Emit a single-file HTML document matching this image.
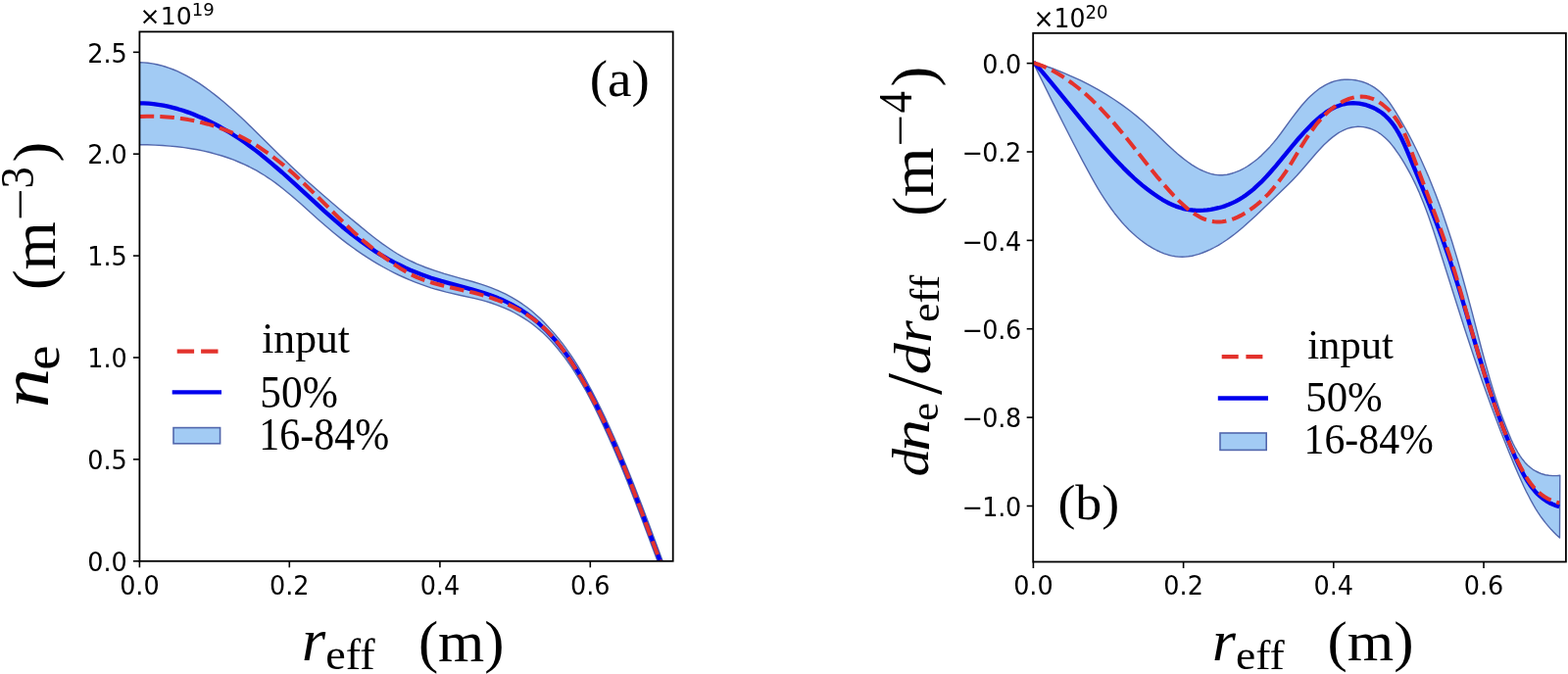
<!DOCTYPE html>
<html><head><meta charset="utf-8"><title>Density profile and gradient</title>
<style>
html,body{margin:0;padding:0;background:#fff;width:1600px;height:688px;overflow:hidden}
svg{display:block}
.tk{font-family:'DejaVu Sans', 'Liberation Sans', sans-serif;font-size:25.5px;fill:#000;stroke:none}
.sr{font-family:'Liberation Serif', 'DejaVu Serif', serif;fill:#000}
.it{font-style:italic}
</style></head><body>
<svg width="1600" height="688" viewBox="0 0 1600 688">
<defs>
<clipPath id="cl"><rect x="142.4" y="32.4" width="544.3000000000001" height="540.4"/></clipPath>
<clipPath id="cr"><rect x="1054.2" y="33.8" width="543.7" height="539.7"/></clipPath>
</defs>
<rect width="1600" height="688" fill="#fff"/>
<!-- left panel -->
<g clip-path="url(#cl)">
<path d="M142.4,63.7L146.9,63.9L150.9,64.3L155.4,64.9L159.9,65.7L163.9,66.7L168.4,68.0L172.4,69.3L176.9,71.0L180.9,72.7L185.4,74.8L189.9,77.1L194.4,79.6L198.9,82.3L203.4,85.2L208.4,88.6L213.4,92.3L220.4,97.6L227.9,103.8L235.4,110.2L242.9,117.0L249.4,123.1L256.9,130.3L284.4,157.4L296.4,169.0L303.9,176.0L311.9,183.4L319.9,190.6L328.4,198.0L339.4,207.5L351.4,217.7L364.4,228.4L376.4,238.2L383.4,243.7L389.9,248.6L395.9,252.8L401.4,256.5L405.4,259.0L409.4,261.3L413.4,263.5L417.4,265.6L421.4,267.5L425.4,269.3L429.9,271.2L434.4,273.0L443.4,276.1L453.4,279.3L469.9,284.1L482.4,287.5L490.9,290.1L495.4,291.6L500.9,293.6L506.4,295.8L509.9,297.3L515.9,300.2L521.9,303.4L527.4,306.6L532.9,310.2L537.9,313.8L542.4,317.3L546.9,321.2L551.4,325.3L554.9,328.8L558.4,332.4L566.9,341.9L570.4,346.1L573.4,349.9L576.4,353.9L579.4,358.1L582.9,363.1L585.9,367.7L588.9,372.4L591.9,377.4L597.4,387.0L604.4,400.0L608.4,407.7L612.4,415.8L616.9,425.1L621.4,434.8L625.9,444.7L629.9,453.8L633.9,463.2L638.4,474.0L646.4,493.8L654.9,515.8L662.9,537.1L681.9,588.2L682.4,587.8L689.9,587.8L689.9,592.6L680.9,592.7L679.4,592.4L677.9,591.0L676.9,588.7L657.4,536.5L648.4,512.8L639.9,491.1L632.4,472.7L627.9,462.0L623.4,451.7L619.4,442.7L614.9,432.9L610.4,423.4L605.9,414.3L601.9,406.4L597.9,398.9L591.9,388.6L585.9,379.0L582.9,374.4L579.9,370.1L576.9,365.9L573.4,361.3L570.4,357.5L566.9,353.3L563.4,349.3L559.9,345.5L556.9,342.4L554.4,340.1L551.4,337.4L547.9,334.5L543.9,331.3L539.4,328.0L535.4,325.4L530.9,322.6L525.4,319.5L520.9,317.2L515.9,314.9L510.9,312.8L506.4,311.1L500.4,309.0L495.9,307.6L492.4,306.6L484.4,304.6L469.9,301.5L455.4,298.1L444.9,295.3L439.9,293.8L434.9,292.1L429.4,290.2L423.9,288.1L418.4,285.9L412.9,283.5L407.4,281.0L401.9,278.3L396.4,275.5L390.9,272.5L385.4,269.3L380.4,266.3L374.9,262.9L369.9,259.6L364.4,255.8L359.4,252.3L354.4,248.6L348.9,244.4L340.4,237.5L331.9,230.3L324.4,223.7L306.4,207.5L297.4,199.7L288.9,192.7L281.4,186.9L277.4,184.0L273.4,181.3L269.9,179.0L265.9,176.6L261.9,174.2L257.9,172.1L253.9,170.0L249.4,167.9L243.9,165.5L238.4,163.2L232.4,161.0L226.4,159.0L220.4,157.3L213.9,155.5L207.9,154.1L201.4,152.8L194.9,151.7L187.9,150.6L180.9,149.8L173.4,149.1L165.9,148.5L158.4,148.1L150.4,147.8L142.4,147.7Z" fill="#a2cbf4" stroke="#5267ad" stroke-width="1.4" stroke-linejoin="round"/>
<path d="M142.0,105.4L146.7,105.4L151.9,105.7L156.5,106.1L161.5,106.8L166.6,107.6L171.5,108.7L176.4,109.9L181.3,111.2L186.6,112.8L191.9,114.6L197.1,116.6L202.7,118.9L208.3,121.3L213.8,123.9L219.2,126.7L224.6,129.5L229.4,132.3L234.7,135.4L239.8,138.7L244.9,142.0L250.0,145.5L255.3,149.4L260.6,153.4L266.3,157.8L276.6,166.3L287.9,176.0L299.4,186.4L321.5,206.7L330.6,215.1L340.3,223.6L348.8,231.0L359.1,239.4L364.0,243.1L368.9,246.8L373.8,250.3L378.4,253.5L383.0,256.6L387.7,259.6L393.0,262.7L397.8,265.5L402.7,268.1L408.2,270.8L413.2,273.2L418.8,275.7L424.5,278.0L430.2,280.2L439.9,283.7L450.2,286.9L459.2,289.4L481.2,295.3L492.1,298.5L497.4,300.3L502.3,302.0L507.0,303.8L511.7,305.8L517.3,308.4L522.3,310.9L527.5,313.8L532.2,316.7L536.8,319.8L541.6,323.4L545.9,326.8L550.5,330.7L554.2,334.2L558.1,338.1L561.9,342.1L565.7,346.2L569.3,350.5L573.1,355.3L576.5,359.8L580.1,364.8L583.6,370.0L587.0,375.2L590.6,380.9L594.1,386.8L597.4,392.7L601.0,399.1L604.6,406.1L608.2,413.1L611.9,420.6L615.9,429.0L623.6,445.8L631.1,463.1L638.9,481.8L646.0,499.7L653.8,520.0L680.1,590.2" fill="none" stroke="#0000ee" stroke-width="4.3" stroke-linejoin="round"/>
<path d="M142.6,118.9L149.7,118.7L156.8,118.7L163.9,118.9L170.6,119.4L177.7,120.1L184.9,121.0L192.0,122.1L198.6,123.4L205.6,125.0L212.1,126.7L218.5,128.6L224.8,130.8L231.0,133.1L237.1,135.6L243.2,138.3L249.1,141.3L254.0,143.9L259.3,147.0L264.0,149.9L269.0,153.3L274.0,156.8L279.3,160.7L284.5,164.8L289.7,168.9L294.7,173.2L299.7,177.6L305.0,182.4L310.6,187.7L321.6,198.4L342.2,218.8L350.9,227.3L359.9,235.9L368.0,243.2L372.8,247.4L377.6,251.4L382.5,255.3L387.5,259.2L393.5,263.6L398.8,267.4L403.4,270.6L408.1,273.7L412.0,276.0L415.6,278.1L419.2,280.0L422.4,281.6L425.6,283.1L429.4,284.6L432.7,285.9L436.5,287.2L443.4,289.3L450.8,291.3L458.3,293.0L477.9,297.5L483.5,298.8L488.5,300.1L494.9,302.0L500.8,303.9L506.7,306.0L511.9,308.0L518.0,310.7L523.6,313.3L529.0,316.1L534.3,319.1L539.4,322.4L544.0,325.5L548.4,328.9L552.7,332.5L556.0,335.5L559.6,339.1L563.1,342.8L566.5,346.7L569.7,350.6L573.2,355.1L576.5,359.8L580.0,364.9L584.0,371.0L588.1,377.6L592.4,384.7L596.5,391.8L600.5,399.0L604.4,406.3L608.5,414.0L612.4,421.8L619.0,435.6L625.8,450.5L632.5,466.0L639.3,482.5L645.1,497.2L651.3,513.5L672.2,569.3L680.1,590.0" fill="none" stroke="#e3322c" stroke-width="4.0" stroke-dasharray="14.6 6.1" stroke-linejoin="round"/>
</g>
<rect x="142.4" y="32.4" width="544.3000000000001" height="540.4" fill="none" stroke="#000" stroke-width="1.8"/>
<g stroke="#000" stroke-width="1.6">
<line x1="135.9" y1="53.3" x2="142.4" y2="53.3" />
<g transform="translate(129.8,53.30) scale(1,1.035)"><text x="0" y="9.90" text-anchor="end" class="tk">2.5</text></g>
<line x1="135.9" y1="157.2" x2="142.4" y2="157.2" />
<g transform="translate(129.8,157.20) scale(1,1.035)"><text x="0" y="9.90" text-anchor="end" class="tk">2.0</text></g>
<line x1="135.9" y1="261.1" x2="142.4" y2="261.1" />
<g transform="translate(129.8,261.10) scale(1,1.035)"><text x="0" y="9.90" text-anchor="end" class="tk">1.5</text></g>
<line x1="135.9" y1="365.0" x2="142.4" y2="365.0" />
<g transform="translate(129.8,365.00) scale(1,1.035)"><text x="0" y="9.90" text-anchor="end" class="tk">1.0</text></g>
<line x1="135.9" y1="468.9" x2="142.4" y2="468.9" />
<g transform="translate(129.8,468.90) scale(1,1.035)"><text x="0" y="9.90" text-anchor="end" class="tk">0.5</text></g>
<line x1="135.9" y1="572.8" x2="142.4" y2="572.8" />
<g transform="translate(129.8,572.80) scale(1,1.035)"><text x="0" y="9.90" text-anchor="end" class="tk">0.0</text></g>
<line x1="142.4" y1="572.8" x2="142.4" y2="579.3" />
<g transform="translate(142.4,606.6) scale(1,1.035)"><text x="0" y="0" text-anchor="middle" class="tk">0.0</text></g>
<line x1="295.3" y1="572.8" x2="295.3" y2="579.3" />
<g transform="translate(295.3,606.6) scale(1,1.035)"><text x="0" y="0" text-anchor="middle" class="tk">0.2</text></g>
<line x1="448.9" y1="572.8" x2="448.9" y2="579.3" />
<g transform="translate(448.9,606.6) scale(1,1.035)"><text x="0" y="0" text-anchor="middle" class="tk">0.4</text></g>
<line x1="602.3" y1="572.8" x2="602.3" y2="579.3" />
<g transform="translate(602.3,606.6) scale(1,1.035)"><text x="0" y="0" text-anchor="middle" class="tk">0.6</text></g>
</g>
<!-- right panel -->
<g clip-path="url(#cr)">
<path d="M1054.0,63.2L1064.1,66.5L1074.2,70.0L1084.1,73.9L1093.2,77.8L1102.3,81.9L1111.2,86.4L1119.9,91.1L1128.4,96.2L1136.8,101.5L1145.0,107.1L1153.0,113.0L1160.3,118.9L1166.6,124.3L1172.3,129.4L1177.5,134.3L1190.8,147.2L1197.9,153.8L1201.5,157.0L1205.3,160.1L1208.6,162.7L1212.0,165.3L1216.0,168.1L1220.1,170.6L1224.3,173.0L1228.0,174.7L1231.7,176.2L1235.5,177.4L1239.3,178.2L1242.5,178.6L1244.7,178.7L1247.4,178.7L1249.5,178.5L1252.2,178.2L1254.3,177.7L1257.0,177.0L1259.6,176.2L1262.3,175.2L1264.9,174.1L1267.4,172.9L1270.0,171.5L1272.5,170.0L1275.0,168.4L1277.9,166.3L1280.3,164.5L1283.2,162.2L1287.3,158.6L1291.6,154.3L1295.8,149.9L1299.7,145.4L1303.1,141.2L1306.7,136.5L1318.2,120.7L1322.9,114.5L1327.8,108.3L1332.2,103.3L1334.7,100.6L1337.3,98.1L1339.9,95.7L1342.2,93.7L1345.0,91.5L1347.3,89.8L1349.8,88.3L1352.3,86.8L1355.3,85.3L1358.5,84.0L1361.7,82.9L1365.1,82.1L1368.5,81.5L1371.9,81.2L1375.4,81.1L1379.4,81.4L1382.9,81.8L1386.8,82.6L1390.2,83.5L1393.4,84.7L1396.6,86.0L1399.6,87.6L1402.5,89.4L1405.2,91.4L1408.7,94.3L1411.9,97.6L1415.0,101.0L1418.2,105.2L1421.2,109.6L1424.4,114.6L1428.4,121.3L1432.6,128.5L1436.9,136.4L1441.3,144.8L1445.5,153.3L1449.5,161.8L1453.4,170.5L1457.4,179.6L1461.2,188.9L1464.9,198.2L1470.6,213.6L1476.1,229.7L1481.6,246.5L1487.2,265.0L1492.1,282.0L1497.4,301.2L1502.4,319.9L1512.3,358.0L1516.3,372.7L1520.4,387.4L1524.3,400.3L1526.6,407.5L1529.0,414.8L1531.5,422.0L1534.0,428.6L1536.5,435.1L1539.2,441.7L1541.9,448.2L1544.1,453.0L1546.5,457.7L1548.7,461.7L1551.2,465.6L1553.5,468.8L1556.0,471.9L1558.7,474.7L1561.6,477.3L1564.3,479.3L1567.2,481.0L1570.3,482.5L1573.5,483.8L1576.9,484.7L1580.5,485.3L1584.3,485.6L1588.3,485.6L1591.8,485.2L1591.5,549.0L1588.5,546.2L1585.7,543.4L1582.9,540.6L1579.9,537.1L1577.4,534.1L1574.6,530.5L1571.9,526.8L1569.4,523.1L1567.0,519.3L1564.7,515.4L1562.2,510.9L1559.8,506.3L1557.4,501.7L1554.9,496.5L1549.6,484.7L1545.0,474.1L1540.3,462.7L1535.7,451.3L1531.2,439.9L1526.6,427.8L1522.1,415.7L1517.5,403.0L1512.9,390.2L1504.1,364.5L1494.6,335.7L1486.8,311.2L1467.8,251.3L1463.0,236.2L1460.1,227.7L1457.6,220.5L1455.0,213.4L1452.4,206.8L1450.0,200.9L1447.8,195.6L1445.4,190.3L1443.2,185.6L1440.9,181.0L1438.5,176.4L1436.0,171.8L1433.3,167.2L1430.6,162.7L1427.7,158.2L1425.0,154.3L1422.7,151.0L1420.2,147.9L1418.1,145.3L1415.4,142.5L1413.0,140.2L1410.6,138.2L1408.1,136.3L1405.4,134.5L1402.7,133.1L1399.8,131.8L1397.4,131.0L1394.4,130.2L1391.2,129.6L1388.1,129.4L1385.6,129.3L1382.6,129.6L1379.6,130.0L1376.7,130.7L1373.9,131.7L1371.1,132.8L1367.9,134.5L1365.8,135.7L1363.7,137.1L1359.6,140.1L1355.2,143.9L1350.8,148.0L1347.1,152.0L1343.4,156.0L1329.5,172.2L1323.3,179.2L1319.3,183.4L1314.8,188.0L1304.5,198.1L1281.6,219.9L1273.0,227.8L1268.6,231.7L1264.1,235.5L1260.1,238.8L1255.9,241.9L1251.6,245.0L1247.8,247.5L1243.3,250.3L1239.3,252.5L1235.2,254.6L1230.9,256.5L1227.2,258.0L1223.4,259.3L1219.6,260.4L1216.5,261.2L1212.6,261.8L1209.5,262.1L1206.3,262.2L1202.5,262.1L1199.4,261.7L1195.7,261.1L1192.1,260.2L1187.9,258.8L1184.3,257.4L1180.3,255.5L1176.3,253.4L1171.8,250.7L1168.1,248.1L1163.9,245.0L1159.9,241.7L1156.0,238.3L1152.2,234.7L1148.2,230.6L1144.7,226.7L1141.0,222.3L1137.3,217.7L1133.5,212.5L1130.1,207.7L1126.9,202.8L1123.7,197.9L1120.3,192.3L1117.0,186.7L1113.5,180.4L1104.8,164.4L1095.2,146.0L1085.0,126.0L1074.3,104.6L1054.2,63.8Z" fill="#a2cbf4" stroke="#5267ad" stroke-width="1.4" stroke-linejoin="round"/>
<path d="M1054.7,63.4L1063.3,73.2L1072.9,84.7L1082.5,96.3L1109.0,128.9L1117.2,138.7L1124.3,147.1L1132.4,156.3L1139.3,164.0L1146.1,171.1L1153.0,177.9L1157.4,182.0L1161.5,185.6L1165.6,189.1L1169.9,192.5L1174.2,195.7L1178.1,198.5L1182.1,201.2L1186.1,203.8L1189.8,205.8L1192.9,207.5L1196.7,209.2L1200.0,210.6L1203.4,211.8L1206.8,212.8L1210.4,213.6L1213.3,214.1L1217.0,214.5L1220.7,214.8L1224.4,214.8L1228.1,214.7L1231.8,214.3L1235.5,213.8L1239.2,213.2L1243.4,212.2L1247.0,211.2L1250.5,210.1L1253.8,208.8L1257.6,207.1L1260.8,205.6L1264.4,203.6L1267.9,201.5L1271.2,199.2L1276.4,195.3L1279.1,193.1L1281.7,190.7L1286.9,185.9L1292.3,180.3L1296.8,175.3L1302.1,169.2L1318.8,148.9L1325.4,141.0L1332.3,133.4L1338.1,127.4L1341.3,124.3L1344.1,121.8L1347.0,119.3L1349.9,117.1L1352.8,114.9L1355.9,112.9L1358.9,111.2L1361.5,109.8L1364.7,108.4L1367.9,107.2L1371.2,106.3L1374.5,105.6L1377.9,105.3L1380.7,105.2L1383.6,105.3L1387.1,105.6L1390.6,106.3L1394.1,107.2L1397.5,108.4L1400.8,109.8L1404.1,111.4L1407.2,113.3L1410.2,115.3L1412.6,117.2L1415.2,119.7L1417.7,122.3L1420.1,125.1L1422.3,128.0L1424.3,131.0L1426.6,134.8L1428.7,138.6L1431.0,143.1L1433.4,148.4L1435.9,154.2L1449.9,187.8L1458.8,209.8L1466.2,228.7L1471.2,242.1L1475.6,254.5L1479.9,266.9L1484.3,280.6L1488.1,292.7L1492.4,306.6L1506.2,353.3L1511.5,370.9L1517.2,389.0L1522.4,404.8L1528.2,421.6L1533.9,437.1L1536.9,444.6L1539.9,452.0L1543.0,459.3L1545.9,466.1L1549.0,472.8L1551.6,478.3L1554.1,483.2L1556.4,487.5L1558.9,491.6L1561.3,495.1L1563.8,498.4L1566.1,501.2L1568.9,504.2L1571.5,506.6L1574.8,509.2L1577.8,511.3L1581.0,513.2L1584.4,514.8L1588.0,516.3L1591.2,517.3" fill="none" stroke="#0000ee" stroke-width="4.3" stroke-linejoin="round"/>
<path d="M1054.1,63.8L1057.0,64.8L1060.5,66.0L1063.9,67.4L1067.3,68.9L1070.6,70.5L1073.9,72.1L1080.5,75.8L1083.7,77.8L1087.4,80.2L1094.1,85.0L1100.6,90.0L1107.5,95.8L1114.6,102.3L1121.4,109.0L1128.3,116.3L1135.4,124.1L1141.7,131.6L1148.3,139.5L1154.7,147.5L1171.9,169.4L1181.6,181.4L1187.4,188.1L1192.9,194.4L1197.7,199.7L1202.3,204.4L1207.5,209.3L1212.3,213.5L1216.8,216.8L1219.3,218.6L1221.4,219.8L1223.9,221.3L1226.0,222.4L1228.1,223.3L1230.3,224.2L1232.4,224.9L1234.6,225.5L1236.8,226.0L1239.0,226.3L1241.8,226.5L1244.6,226.5L1247.4,226.3L1250.3,225.8L1253.1,225.1L1256.6,224.1L1259.4,223.1L1262.9,221.6L1266.3,219.9L1269.6,218.0L1272.9,215.9L1276.2,213.7L1279.4,211.3L1283.0,208.5L1286.0,205.9L1289.4,202.8L1294.4,197.8L1299.0,192.6L1303.7,186.8L1308.5,180.4L1312.4,174.8L1316.4,168.5L1328.8,148.0L1333.2,141.0L1337.9,134.2L1342.4,128.1L1344.8,125.1L1347.3,122.2L1349.8,119.4L1352.5,116.7L1355.3,114.1L1357.7,112.0L1360.7,109.7L1363.3,107.8L1366.5,105.8L1369.7,103.9L1373.0,102.3L1376.4,100.9L1379.8,99.9L1382.6,99.2L1386.1,98.7L1388.9,98.6L1391.8,98.7L1394.6,99.1L1397.4,99.8L1400.8,100.9L1403.5,102.1L1406.6,103.8L1409.7,105.9L1412.6,108.2L1415.5,110.7L1418.2,113.4L1420.8,116.4L1423.6,120.0L1426.3,123.8L1428.7,127.7L1430.9,131.7L1432.9,135.7L1434.9,140.4L1437.0,145.6L1446.7,172.1L1465.3,221.2L1470.4,235.2L1474.9,248.2L1479.1,260.6L1483.4,274.2L1487.2,286.7L1491.2,300.5L1504.3,346.7L1509.4,364.1L1514.4,380.9L1519.3,396.3L1524.7,412.3L1530.2,427.6L1533.1,435.2L1535.9,442.2L1538.8,449.1L1541.5,455.5L1544.9,462.9L1548.4,470.3L1551.5,476.5L1554.2,481.5L1556.7,485.8L1559.4,490.0L1561.9,493.5L1564.5,496.8L1567.4,499.9L1570.5,502.9L1573.8,505.5L1576.9,507.6L1580.1,509.4L1583.6,511.0L1587.3,512.4L1591.2,513.5" fill="none" stroke="#e3322c" stroke-width="4.0" stroke-dasharray="14.6 6.1" stroke-linejoin="round"/>
</g>
<rect x="1054.2" y="33.8" width="543.7" height="539.7" fill="none" stroke="#000" stroke-width="1.8"/>
<g stroke="#000" stroke-width="1.6">
<line x1="1047.7" y1="64.6" x2="1054.2" y2="64.6" />
<g transform="translate(1041.7,64.60) scale(1,1.035)"><text x="0" y="9.90" text-anchor="end" class="tk" letter-spacing="-0.4">0.0</text></g>
<line x1="1047.7" y1="155.0" x2="1054.2" y2="155.0" />
<g transform="translate(1041.7,155.00) scale(1,1.035)"><text x="0" y="9.90" text-anchor="end" class="tk" letter-spacing="-0.4">−0.2</text></g>
<line x1="1047.7" y1="245.4" x2="1054.2" y2="245.4" />
<g transform="translate(1041.7,245.40) scale(1,1.035)"><text x="0" y="9.90" text-anchor="end" class="tk" letter-spacing="-0.4">−0.4</text></g>
<line x1="1047.7" y1="335.7" x2="1054.2" y2="335.7" />
<g transform="translate(1041.7,335.70) scale(1,1.035)"><text x="0" y="9.90" text-anchor="end" class="tk" letter-spacing="-0.4">−0.6</text></g>
<line x1="1047.7" y1="426.1" x2="1054.2" y2="426.1" />
<g transform="translate(1041.7,426.10) scale(1,1.035)"><text x="0" y="9.90" text-anchor="end" class="tk" letter-spacing="-0.4">−0.8</text></g>
<line x1="1047.7" y1="516.5" x2="1054.2" y2="516.5" />
<g transform="translate(1041.7,516.50) scale(1,1.035)"><text x="0" y="9.90" text-anchor="end" class="tk" letter-spacing="-0.4">−1.0</text></g>
<line x1="1054.4" y1="573.5" x2="1054.4" y2="580.0" />
<g transform="translate(1054.4,606.8) scale(1,1.035)"><text x="0" y="0" text-anchor="middle" class="tk">0.0</text></g>
<line x1="1207.6" y1="573.5" x2="1207.6" y2="580.0" />
<g transform="translate(1207.6,606.8) scale(1,1.035)"><text x="0" y="0" text-anchor="middle" class="tk">0.2</text></g>
<line x1="1360.8" y1="573.5" x2="1360.8" y2="580.0" />
<g transform="translate(1360.8,606.8) scale(1,1.035)"><text x="0" y="0" text-anchor="middle" class="tk">0.4</text></g>
<line x1="1514.0" y1="573.5" x2="1514.0" y2="580.0" />
<g transform="translate(1514.0,606.8) scale(1,1.035)"><text x="0" y="0" text-anchor="middle" class="tk">0.6</text></g>
</g>
<!-- legends -->
<line x1="180.7" y1="358.7" x2="223" y2="358.7" stroke="#e3322c" stroke-width="4.2" stroke-dasharray="17.4 7"/>
<line x1="175.7" y1="400.3" x2="226" y2="400.3" stroke="#0000ee" stroke-width="4.3"/>
<rect x="177" y="436.6" width="47.6" height="16.2" fill="#a2cbf4" stroke="#5267ad" stroke-width="1.6"/>
<line x1="1246.7" y1="364.1" x2="1288.6" y2="364.1" stroke="#e3322c" stroke-width="4.2" stroke-dasharray="17 7.7"/>
<line x1="1242.8" y1="406.5" x2="1294" y2="406.5" stroke="#0000ee" stroke-width="4.3"/>
<rect x="1245" y="442" width="47.2" height="17.4" fill="#a2cbf4" stroke="#5267ad" stroke-width="1.6"/>
<!-- texts -->
<g transform="translate(267.200,360.200) scale(1.0162,1.0517)"><text font-family="'Liberation Serif', 'DejaVu Serif', serif" font-size="43">input</text></g>
<g transform="translate(265.200,415.800) scale(1.0107,1.0802)"><text font-family="'Liberation Serif', 'DejaVu Serif', serif" font-size="43">50%</text></g>
<g transform="translate(264.300,458.600) scale(0.9758,1.0659)"><text font-family="'Liberation Serif', 'DejaVu Serif', serif" font-size="43">16-84%</text></g>
<g transform="translate(1334.200,365.800) scale(0.9932,1.0004)"><text font-family="'Liberation Serif', 'DejaVu Serif', serif" font-size="43">input</text></g>
<g transform="translate(1332.300,420.000) scale(0.9949,1.0357)"><text font-family="'Liberation Serif', 'DejaVu Serif', serif" font-size="43">50%</text></g>
<g transform="translate(1330.600,463.000) scale(0.9713,1.0501)"><text font-family="'Liberation Serif', 'DejaVu Serif', serif" font-size="43">16-84%</text></g>
<g transform="translate(601.800,98.400) scale(1.0003,0.9446)"><text font-family="'Liberation Serif', 'DejaVu Serif', serif" font-size="55">(a)</text></g>
<g transform="translate(1079.400,530.200) scale(0.9801,0.9294)"><text font-family="'Liberation Serif', 'DejaVu Serif', serif" font-size="55">(b)</text></g>
<g transform="translate(308.100,673.600) scale(1.0030,0.9851)"><text font-family="'Liberation Serif', 'DejaVu Serif', serif" font-size="62"><tspan font-style="italic">r</tspan><tspan font-size="46" dy="10">eff</tspan></text></g>
<g transform="translate(426.900,674.500) scale(0.9789,0.9460)"><text font-family="'Liberation Serif', 'DejaVu Serif', serif" font-size="62">(m)</text></g>
<g transform="translate(1237.000,673.800) scale(0.9920,0.9390)"><text font-family="'Liberation Serif', 'DejaVu Serif', serif" font-size="62"><tspan font-style="italic">r</tspan><tspan font-size="46" dy="10">eff</tspan></text></g>
<g transform="translate(1354.500,674.300) scale(0.9836,0.9319)"><text font-family="'Liberation Serif', 'DejaVu Serif', serif" font-size="62">(m)</text></g>
<g transform="translate(142.600,25.400) scale(1.0057,1.0010)"><text font-family="'DejaVu Sans', 'Liberation Sans', sans-serif" font-size="25">×10<tspan dy="-9.3" font-size="18">19</tspan></text></g>
<g transform="translate(1054.400,28.400) scale(1.0057,1.0575)"><text font-family="'DejaVu Sans', 'Liberation Sans', sans-serif" font-size="25">×10<tspan dy="-9.3" font-size="18">20</tspan></text></g>
<g transform="translate(49.250,416.250) rotate(-90) scale(1.3006,1.1314)"><text font-family="'Liberation Serif', 'DejaVu Serif', serif" font-size="62" font-style="italic">n</text></g>
<g transform="translate(59.750,377.750) rotate(-90) scale(1.2367,1.1372)"><text font-family="'Liberation Serif', 'DejaVu Serif', serif" font-size="46">e</text></g>
<g transform="translate(54.000,296.000) rotate(-90) scale(1.0039,0.9504)"><text font-family="'Liberation Serif', 'DejaVu Serif', serif" font-size="62">(</text></g>
<g transform="translate(56.250,275.500) rotate(-90) scale(1.0213,1.0145)"><text font-family="'Liberation Serif', 'DejaVu Serif', serif" font-size="62">m</text></g>
<g transform="translate(36.250,225.000) rotate(-90) scale(1.2727,1.0000)"><text font-family="'Liberation Serif', 'DejaVu Serif', serif" font-size="46">−</text></g>
<g transform="translate(33.500,192.500) rotate(-90) scale(0.9694,1.0583)"><text font-family="'Liberation Serif', 'DejaVu Serif', serif" font-size="46">3</text></g>
<g transform="translate(53.000,165.500) rotate(-90) scale(1.0039,0.9334)"><text font-family="'Liberation Serif', 'DejaVu Serif', serif" font-size="62">)</text></g>
<g transform="translate(947.250,486.500) rotate(-90) scale(1.0227,0.9569)"><text font-family="'Liberation Serif', 'DejaVu Serif', serif" font-size="56" font-style="italic">d</text></g>
<g transform="translate(948.250,460.750) rotate(-90) scale(1.1674,0.9637)"><text font-family="'Liberation Serif', 'DejaVu Serif', serif" font-size="56" font-style="italic">n</text></g>
<g transform="translate(957.000,429.750) rotate(-90) scale(1.0548,0.9857)"><text font-family="'Liberation Serif', 'DejaVu Serif', serif" font-size="40">e</text></g>
<g transform="translate(960.250,403.000) rotate(-90) scale(1.4135,1.4267)"><text font-family="'Liberation Serif', 'DejaVu Serif', serif" font-size="56">/</text></g>
<g transform="translate(948.750,382.500) rotate(-90) scale(1.1550,0.9472)"><text font-family="'Liberation Serif', 'DejaVu Serif', serif" font-size="56" font-style="italic">d</text></g>
<g transform="translate(949.750,350.250) rotate(-90) scale(1.0608,0.9637)"><text font-family="'Liberation Serif', 'DejaVu Serif', serif" font-size="56" font-style="italic">r</text></g>
<g transform="translate(958.250,329.000) rotate(-90) scale(1.1001,1.0351)"><text font-family="'Liberation Serif', 'DejaVu Serif', serif" font-size="40">eff</text></g>
<g transform="translate(952.500,220.500) rotate(-90) scale(0.9449,1.0000)"><text font-family="'Liberation Serif', 'DejaVu Serif', serif" font-size="62">(</text></g>
<g transform="translate(952.250,201.000) rotate(-90) scale(1.0474,1.0006)"><text font-family="'Liberation Serif', 'DejaVu Serif', serif" font-size="62">m</text></g>
<g transform="translate(933.750,149.500) rotate(-90) scale(1.2727,1.0000)"><text font-family="'Liberation Serif', 'DejaVu Serif', serif" font-size="46">−</text></g>
<g transform="translate(929.500,115.500) rotate(-90) scale(0.9735,1.0583)"><text font-family="'Liberation Serif', 'DejaVu Serif', serif" font-size="46">4</text></g>
<g transform="translate(952.250,88.500) rotate(-90) scale(1.0039,0.9720)"><text font-family="'Liberation Serif', 'DejaVu Serif', serif" font-size="62">)</text></g>
</svg>
</body></html>
